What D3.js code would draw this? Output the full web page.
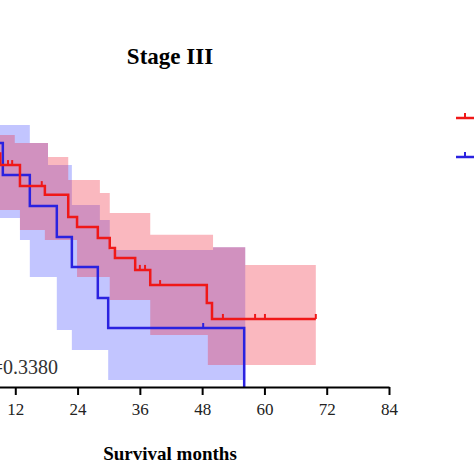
<!DOCTYPE html><html><head><script src="https://cdn.jsdelivr.net/npm/d3@7"></script>
<style>body{margin:0}svg{display:block}</style></head><body><svg width="474" height="474"></svg>
<script>
const xTicks=[0,12,24,36,48,60,72,84];
const redSteps=[[0,1],[2,0.95],[4,0.9],[6,0.85],[8,0.8],[9.1,0.76],[12.9,0.688],[17.7,0.658],[22.2,0.582],[23.9,0.548],[27.9,0.51],[30.2,0.476],[31.2,0.442],[35.1,0.401],[38.0,0.349],[48.9,0.288],[49.9,0.233],[69.9,0.233]];
const blueSteps=[[0,1],[3,0.95],[6,0.9],[8,0.836],[9.6,0.726],[14.8,0.62],[20.0,0.514],[22.9,0.411],[27.9,0.305],[29.9,0.202],[56.1,0.202],[56.1,0]];
const redUpper=[[0,1],[8,0.863],[11.9,0.836],[18.3,0.788],[22.2,0.709],[28.3,0.664],[30.2,0.596],[38.0,0.521],[50.1,0.479],[56.3,0.418],[69.9,0.418]];
const redLower=[[0,0.8],[8,0.606],[12.9,0.538],[17.7,0.503],[23.9,0.377],[30.2,0.298],[38.0,0.178],[49.1,0.075],[69.9,0.075]];
const blueUpper=[[0,1],[8,0.897],[14.8,0.836],[18.3,0.76],[22.9,0.623],[28.3,0.572],[30.2,0.469],[50.1,0.479],[56.3,0.479]];
const blueLower=[[0,0.75],[8,0.579],[12.9,0.503],[14.8,0.377],[20.0,0.195],[22.9,0.127],[29.9,0.024],[56.3,0.024]];
const redCensor=[10.6,11.4,17.1,36.0,37.0,39.9,52.0,58.2,60.1,69.9];
const blueCensor=[48.2];
const svg=d3.select("svg");
const x=d3.scaleLinear().domain([0,84]).range([-47,389]);
const y=d3.scaleLinear().domain([0,1]).range([387,95]);
const val=(arr,m)=>{let v=arr[0][1];for(const d of arr){if(d[0]<=m)v=d[1];}return v;};
const area=(up,lo)=>{const a=d3.area().curve(d3.curveStepAfter).x(d=>x(d[0])).y0(d=>y(d[1])).y1(d=>y(d[2]));
 const xs=[...new Set([...up.map(d=>d[0]),...lo.map(d=>d[0])])].sort((a,b)=>a-b);
 return a(xs.map(m=>[m,val(lo,m),val(up,m)]));};
svg.append("path").attr("d",area(blueUpper,blueLower)).attr("fill","rgba(70,80,255,0.33)");
svg.append("path").attr("d",area(redUpper,redLower)).attr("fill","rgba(240,40,60,0.33)");
const line=d3.line().curve(d3.curveStepAfter).x(d=>x(d[0])).y(d=>y(d[1]));
svg.append("path").attr("d",line(blueSteps)).attr("fill","none").attr("stroke","#2a22e0").attr("stroke-width",2.5);
svg.append("path").attr("d",line(redSteps)).attr("fill","none").attr("stroke","#f01818").attr("stroke-width",2.5);
svg.selectAll(".rc").data(redCensor).join("line").attr("x1",d=>x(d)).attr("x2",d=>x(d)).attr("y1",d=>y(val(redSteps,d))).attr("y2",d=>y(val(redSteps,d))-5).attr("stroke","#f01818").attr("stroke-width",2);
svg.selectAll(".bc").data(blueCensor).join("line").attr("x1",d=>x(d)).attr("x2",d=>x(d)).attr("y1",d=>y(val(blueSteps,d))).attr("y2",d=>y(val(blueSteps,d))-5).attr("stroke","#2a22e0").attr("stroke-width",2);
const ax=svg.append("g").attr("transform","translate(0,387)").call(d3.axisBottom(x).tickValues(xTicks).tickSize(8).tickSizeOuter(0));
ax.select(".domain").attr("stroke-width",2);
ax.selectAll(".tick line").attr("stroke-width",2);
ax.selectAll("text").attr("font-family","Liberation Serif").attr("font-size",17).attr("y",28).attr("dy","0").attr("fill","#222");
svg.append("text").attr("x",170).attr("y",460).attr("text-anchor","middle").attr("font-family","Liberation Serif").attr("font-weight","bold").attr("font-size",19).text("Survival months");
svg.append("text").attr("x",170).attr("y",64).attr("text-anchor","middle").attr("font-family","Liberation Serif").attr("font-weight","bold").attr("font-size",23).text("Stage III");
svg.append("text").attr("x",58).attr("y",374).attr("text-anchor","end").attr("font-family","Liberation Serif").attr("font-size",20).attr("fill","#333").text("P=0.3380");
[["#f01818",118],["#2a22e0",157]].forEach(([c,yy])=>{svg.append("line").attr("x1",456).attr("x2",474).attr("y1",yy).attr("y2",yy).attr("stroke",c).attr("stroke-width",2.5);
svg.append("line").attr("x1",465).attr("x2",465).attr("y1",yy).attr("y2",yy-5).attr("stroke",c).attr("stroke-width",2);});
</script></body></html>
